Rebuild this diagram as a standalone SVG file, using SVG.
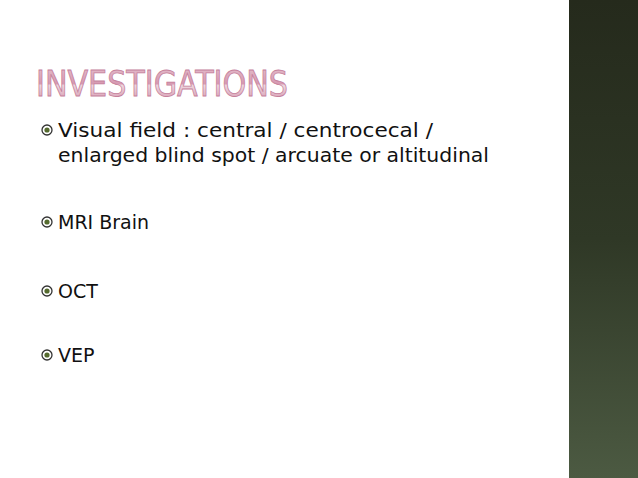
<svg xmlns="http://www.w3.org/2000/svg" width="638" height="478" viewBox="0 0 638 478">
<defs>
<linearGradient id="pg" x1="0" y1="0" x2="0" y2="1">
<stop offset="0" stop-color="#252a1c"/><stop offset="0.5" stop-color="#2f3826"/><stop offset="1" stop-color="#4c5a42"/>
</linearGradient>
<linearGradient id="tg" x1="0" y1="0" x2="0" y2="1">
<stop offset="0" stop-color="#e6c3d0"/><stop offset="0.5" stop-color="#d79ab2"/><stop offset="0.55" stop-color="#eed7df"/><stop offset="1" stop-color="#d08ca6"/>
</linearGradient>
<g id="b"><circle r="5" fill="none" stroke="#333" stroke-width="1.3"/><circle r="2.6" fill="#556b2f"/></g>
</defs>
<style>
.t{font-family:"DejaVu Sans",Verdana,sans-serif;font-size:19px;fill:#111}
</style>
<rect width="638" height="478" fill="#fff"/>
<rect x="569" y="0" width="69" height="478" fill="url(#pg)"/>
<text x="36" y="96" font-family="DejaVu Sans Condensed,DejaVu Sans,sans-serif" font-size="36" fill="url(#tg)" stroke="#c5809b" stroke-width="0.8" textLength="252" lengthAdjust="spacingAndGlyphs">INVESTIGATIONS</text>
<use href="#b" x="47" y="130"/>
<text class="t" x="58" y="137" textLength="375" lengthAdjust="spacingAndGlyphs">Visual field : central / centrocecal /</text>
<text class="t" x="58" y="162" textLength="431" lengthAdjust="spacingAndGlyphs">enlarged blind spot / arcuate or altitudinal</text>
<use href="#b" x="47" y="222"/>
<text class="t" x="58" y="229">MRI Brain</text>
<use href="#b" x="47" y="291"/>
<text class="t" x="58" y="298">OCT</text>
<use href="#b" x="47" y="355"/>
<text class="t" x="58" y="362">VEP</text>
</svg>
